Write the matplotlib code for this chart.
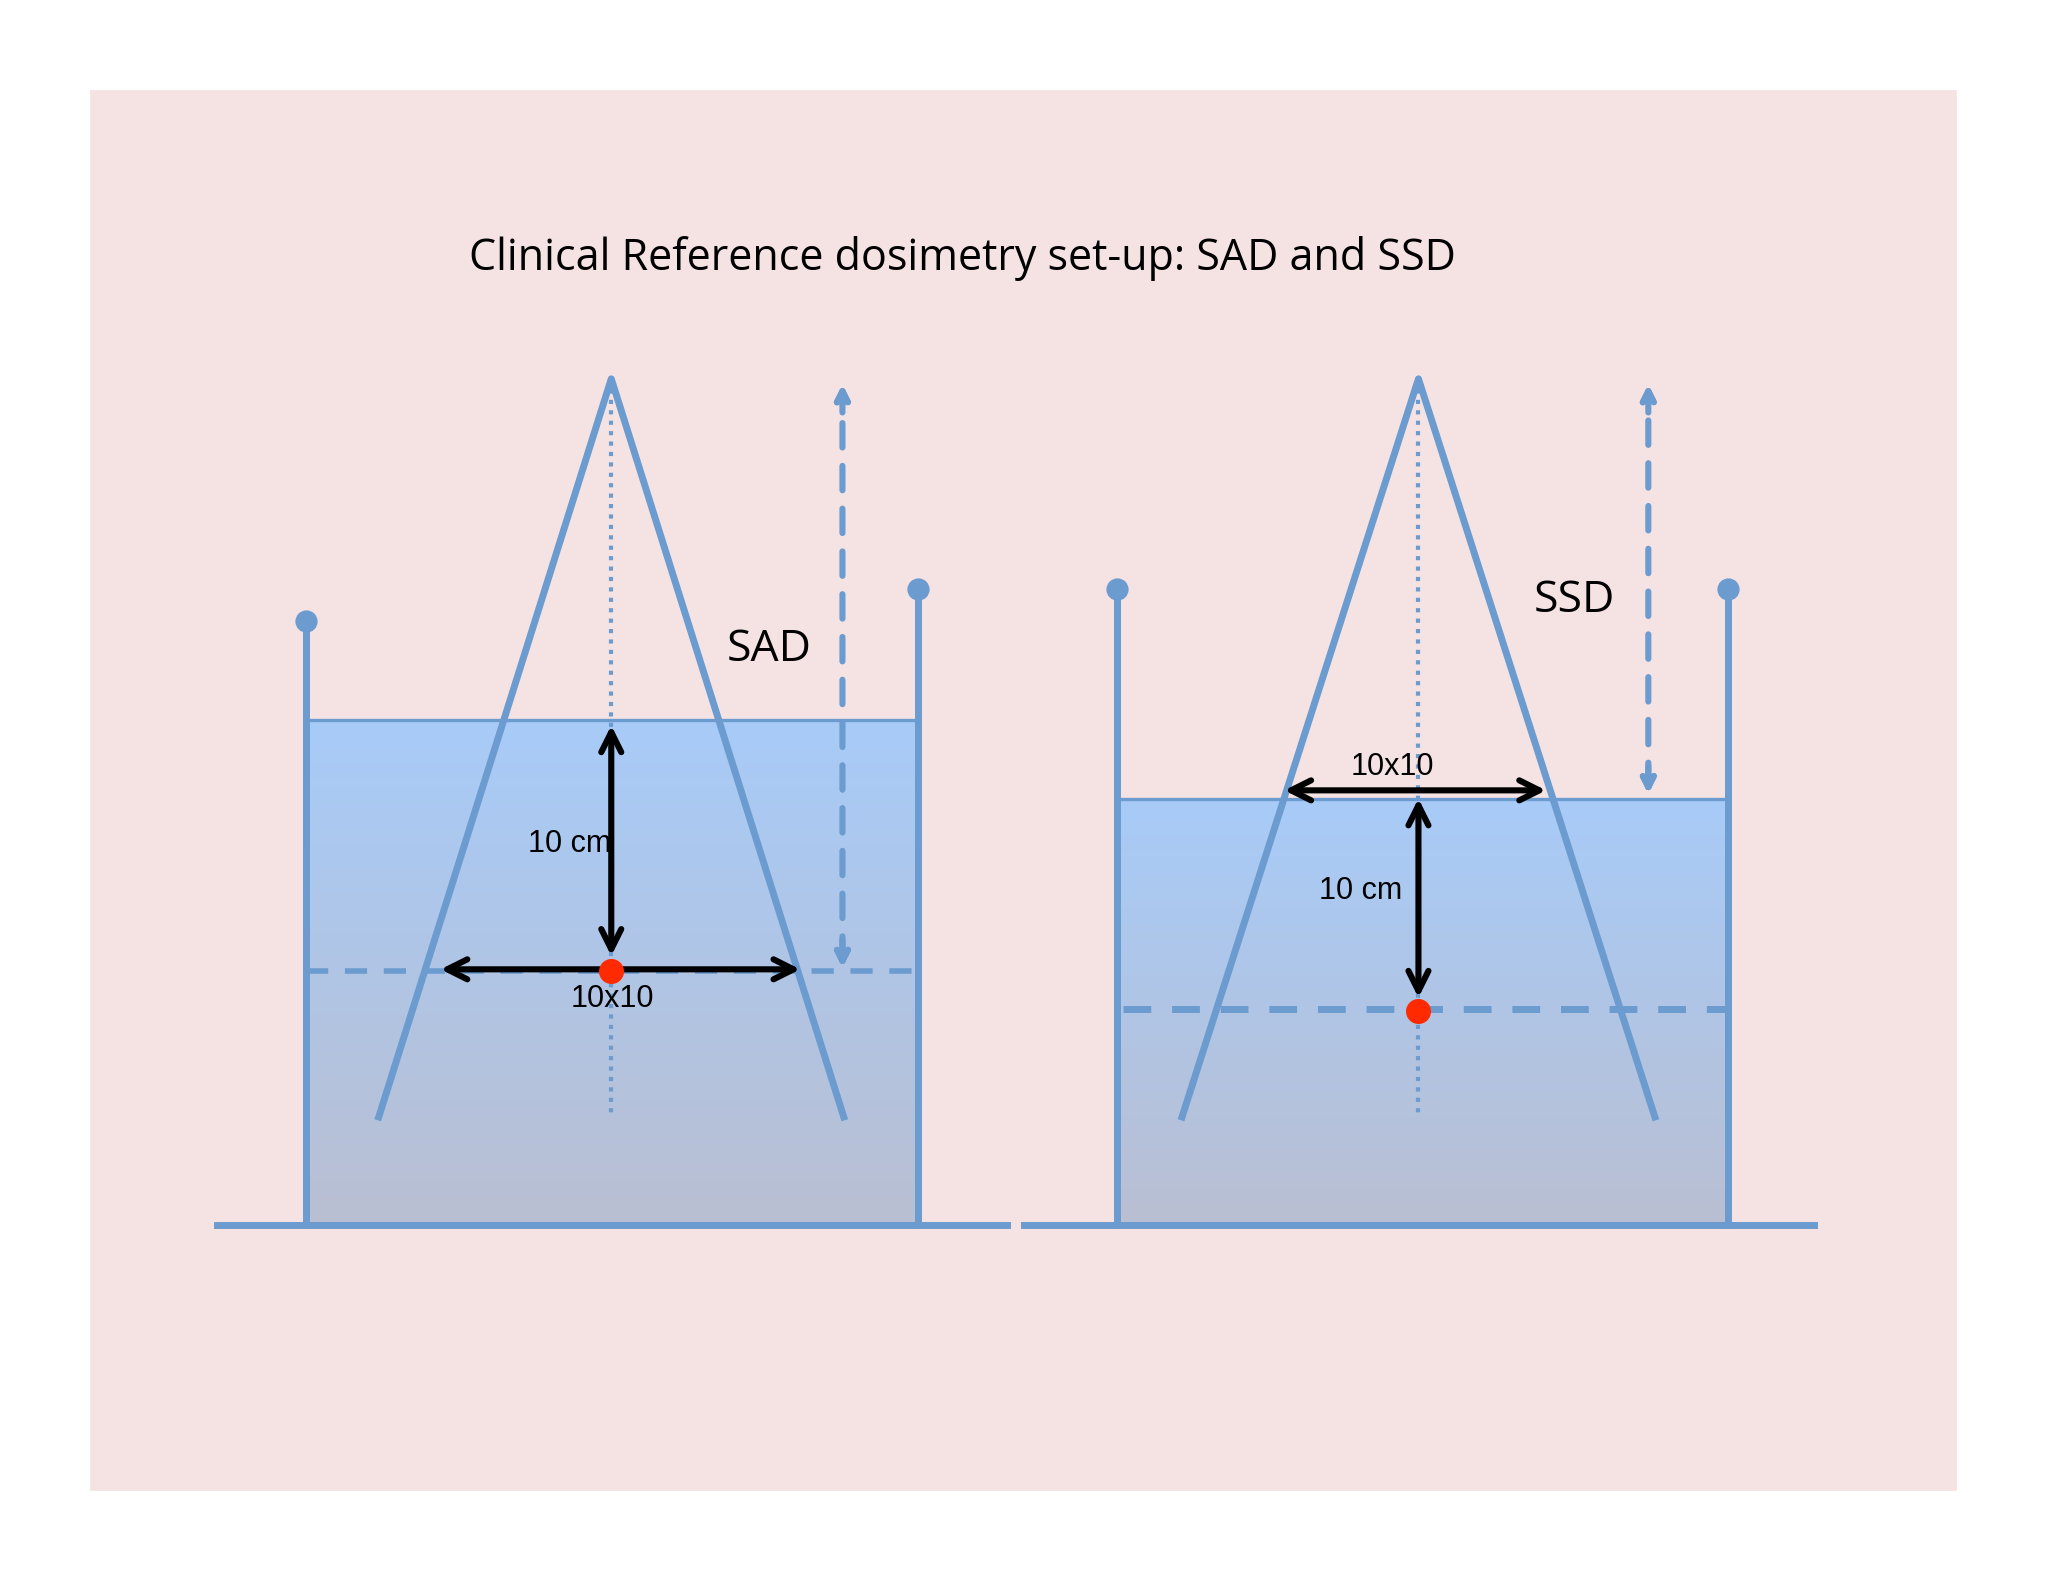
import matplotlib
matplotlib.use("Agg")
import matplotlib.pyplot as plt
import numpy as np

W, H = 1568, 1211
title = "Clinical Reference dosimetry set-up: SAD and SSD"
# per-panel geometry (display px)
walls = [(234, 703, 475, 451), (855, 1323, 451, 451)]
water_top = [551, 612]
apex_x = [468, 1086]
cone_half = [178, 181]
depth_y = [743, 772]
labels = ["SAD", "SSD"]

LC = "#6B9BCF"
fig = plt.figure(figsize=(2048/200, 1582/200), dpi=200)
ax = fig.add_axes([0, 0, 1, 1])
ax.set_xlim(0, W); ax.set_ylim(H, 0); ax.axis("off")
ax.add_patch(plt.Rectangle((70, 70), 1427, 1070, color="#F5E3E4", zorder=0))
ax.text(737, 198, title, ha="center", va="center", fontsize=15.5, family="Open Sans")

top = np.array([0xA8, 0xCB, 0xF8]) / 255
bot = np.array([0xB9, 0xBF, 0xD2]) / 255
for i in range(2):
    xl, xr, hl, hr = walls[i]
    wt = water_top[i]
    grad = np.linspace(0, 1, 200)[:, None, None] * (bot - top) + top
    ax.imshow(np.repeat(grad, 2, axis=1), extent=(xl, xr, 938, wt), aspect="auto", zorder=1)
    ax.plot([xl, xr], [wt, wt], color=LC, lw=1.2, zorder=2)
    ax.plot([xl, xl], [hl, 938], color=LC, lw=2.5, zorder=3)
    ax.plot([xr, xr], [hr, 938], color=LC, lw=2.5, zorder=3)
    ax.plot([xl, xr], [hl, hr], "o", color=LC, ms=7, zorder=3, ls="none")
    fx0 = 166 if i == 0 else 784
    ax.plot([fx0, fx0 + 605], [938, 938], color=LC, lw=2.5, zorder=3)
    ax_ = apex_x[i]; h = cone_half[i]
    ax.plot([ax_ - h, ax_, ax_ + h], [855, 290, 855], color=LC, lw=2.5, zorder=3)
    ax.plot([ax_, ax_], [290, 855], color=LC, lw=1.5, ls=(0, (1, 1.5)), zorder=3)
    dy = depth_y[i]
    ax.plot([xl + (0 if i == 0 else 5), xr], [dy, dy], color=LC, lw=2.5 if i else 2,
            ls=(0, (4, 3)), zorder=3)
    ax.plot(ax_, dy + (0 if i == 0 else 2), "o", color="#FF2A00", ms=8, zorder=6)
    # distance arrow
    dax = 645 if i == 0 else 1262
    dend = 745 if i == 0 else 612
    ax.annotate("", xy=(dax, 290), xytext=(dax, dend),
                arrowprops=dict(arrowstyle="<->", color=LC, lw=2.2, ls=(0, (4, 3))), zorder=4)
    ax.annotate("", xy=(dax, 290), xytext=(dax, 320),
                arrowprops=dict(arrowstyle="->", color=LC, lw=2.2), zorder=4)
    ax.annotate("", xy=(dax, dend), xytext=(dax, dend - 30),
                arrowprops=dict(arrowstyle="->", color=LC, lw=2.2), zorder=4)

ak = dict(arrowstyle="<->", color="black", lw=2.2, mutation_scale=18)
# SAD
ax.annotate("", xy=(468, 551), xytext=(468, 736), arrowprops=ak, zorder=5)
ax.annotate("", xy=(333, 742), xytext=(617, 742), arrowprops=ak, zorder=5)
ax.text(436, 646, "10 cm", ha="center", va="center", fontsize=11, family="Liberation Sans")
ax.text(469, 765, "10x10", ha="center", va="center", fontsize=11, family="Liberation Sans")
ax.text(589, 497, labels[0], ha="center", va="center", fontsize=16, family="Open Sans")
# SSD
ax.annotate("", xy=(979, 605), xytext=(1188, 605), arrowprops=ak, zorder=5)
ax.annotate("", xy=(1086, 607), xytext=(1086, 768), arrowprops=ak, zorder=5)
ax.text(1066, 587, "10x10", ha="center", va="center", fontsize=11, family="Liberation Sans")
ax.text(1042, 682, "10 cm", ha="center", va="center", fontsize=11, family="Liberation Sans")
ax.text(1205, 460, labels[1], ha="center", va="center", fontsize=16, family="Open Sans")

fig.savefig("out.png", dpi=200, facecolor="white")
